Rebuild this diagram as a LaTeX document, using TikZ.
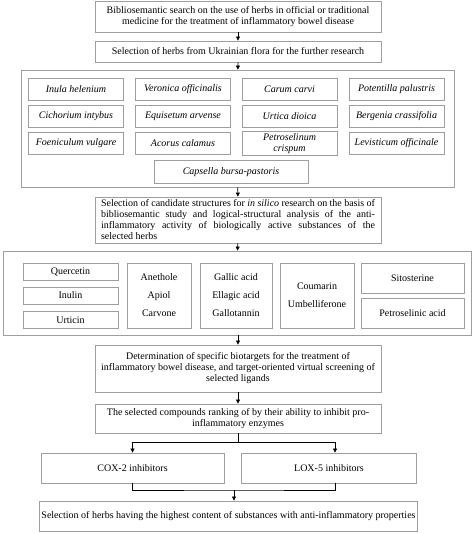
\documentclass[tikz,border=0pt]{standalone}
\usepackage{fontspec}
\setmainfont{Liberation Serif}
\usetikzlibrary{arrows.meta}
\tikzset{
  box/.style={draw=black!38, line width=0.8pt, rectangle, inner sep=2pt, align=center,
    font=\fontsize{10}{11}\selectfont},
  herb/.style={box, minimum width=95pt, minimum height=22pt, font=\fontsize{10}{10.5}\selectfont\itshape},
  comp/.style={box, font=\fontsize{10}{18}\selectfont},
  link/.style={line width=0.7pt, ->, >={Triangle[length=4pt,width=4pt]}}
}
\begin{document}
\begin{tikzpicture}[x=1pt, y=-1pt]
    \useasboundingbox (0,0) rectangle (474,534);

    % Search and selection
    \node (search) [box, minimum width=286pt, minimum height=31pt] at (238,16.5)
        {Bibliosemantic search on the use of herbs in official or traditional\\
         medicine for the treatment of inflammatory bowel disease};
    \node (flora) [box, minimum width=286pt, minimum height=21pt] at (238,51.5)
        {Selection of herbs from Ukrainian flora for the further research};

    % Herbs
    \node (herbs) [box, minimum width=433pt, minimum height=117pt] at (237.5,128.5) {};
    \node (h1) [herb] at (76,89) {Inula helenium};
    \node (h2) [herb] at (183,89) {Veronica officinalis};
    \node (h3) [herb] at (289.5,89) {Carum carvi};
    \node (h4) [herb] at (396.5,89) {Potentilla palustris};
    \node (h5) [herb] at (76,116.5) {Cichorium intybus};
    \node (h6) [herb] at (183,116.5) {Equisetum arvense};
    \node (h7) [herb] at (289.5,116.5) {Urtica dioica};
    \node (h8) [herb] at (396.5,116.5) {Bergenia crassifolia};
    \node (h9) [herb] at (76,143.5) {Foeniculum vulgare};
    \node (h10) [herb] at (183,143.5) {Acorus calamus};
    \node (h11) [herb] at (289.5,143.5) {Petroselinum\\crispum};
    \node (h12) [herb] at (396.5,143.5) {Levisticum officinale};
    \node (h13) [herb, minimum width=154pt, minimum height=23pt] at (231,172) {Capsella bursa-pastoris};

    % Candidate structures
    \node (cand) [box, minimum width=286pt, minimum height=46pt, text width=274pt, align=justify] at (238,220)
        {Selection of candidate structures for \textit{in silico} research on the basis of\linebreak
         bibliosemantic study and logical-structural analysis of the anti-\linebreak
         inflammatory activity of biologically active substances of the\linebreak
         selected herbs};

    % Compounds
    \node (comps) [box, minimum width=468pt, minimum height=84pt] at (237,293) {};
    \node (c1) [box, minimum width=95pt, minimum height=17pt] at (70.5,271.5) {Quercetin};
    \node (c2) [box, minimum width=95pt, minimum height=17pt] at (70.5,295.5) {Inulin};
    \node (c3) [box, minimum width=95pt, minimum height=17pt] at (70.5,320) {Urticin};
    \node (c4) [comp, minimum width=64pt, minimum height=65pt] at (159,295.5) {Anethole\\Apiol\\Carvone};
    \node (c5) [comp, minimum width=72pt, minimum height=65pt] at (236,295.5) {Gallic acid\\Ellagic acid\\Gallotannin};
    \node (c6) [comp, minimum width=74pt, minimum height=65pt] at (317,295.5) {Coumarin\\Umbelliferone};
    \node (c7) [box, minimum width=103pt, minimum height=30pt] at (412.5,278) {Sitosterine};
    \node (c8) [box, minimum width=103pt, minimum height=30pt] at (412.5,313) {Petroselinic acid};

    % Screening and ranking
    \node (target) [box, minimum width=286pt, minimum height=47pt] at (238,368.5)
        {Determination of specific biotargets for the treatment of\\
         inflammatory bowel disease, and target-oriented virtual screening of\\
         selected ligands};
    \node (rank) [box, minimum width=286pt, minimum height=29pt] at (238,418.5)
        {The selected compounds ranking of by their ability to inhibit pro-\\
         inflammatory enzymes};
    \node (cox) [box, minimum width=183pt, minimum height=30pt] at (132.5,468) {COX-2 inhibitors};
    \node (lox) [box, minimum width=175pt, minimum height=30pt] at (329,468) {LOX-5 inhibitors};
    \node (final) [box, minimum width=375pt, minimum height=30pt] at (228.5,516)
        {Selection of herbs having the highest content of substances with anti-inflammatory properties};

    % Edges
    \draw[link] (search) -- (flora);
    \draw[link] (flora) -- (herbs);
    \draw[link] (herbs) -- (cand);
    \draw[link] (cand) -- (comps);
    \draw[link] (comps.south -| cand.south) -- (target);
    \draw[link] (target) -- (rank);
    \coordinate (split) at (238,442);
    \coordinate (join) at (234,490);
    \draw[line width=0.7pt] (rank.south) -- (split);
    \draw[link] (split) -| (cox.north);
    \draw[link] (split) -| ([xshift=6pt]lox.north);
    \draw[line width=0.7pt] (cox.south) |- (join) -| ([xshift=6pt]lox.south);
    \draw[link] (join) -- (join |- final.north);
\end{tikzpicture}
\end{document}
